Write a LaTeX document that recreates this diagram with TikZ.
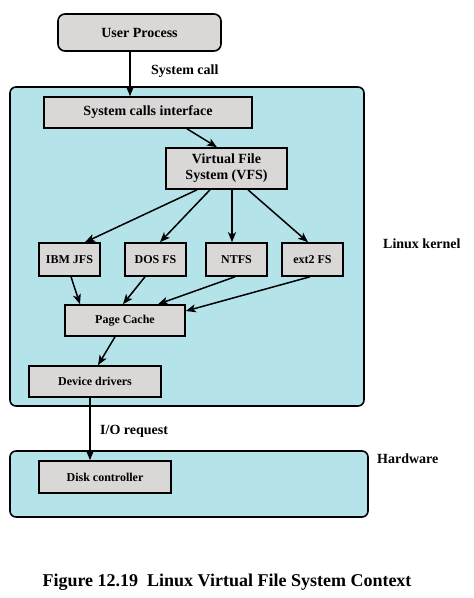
\documentclass[tikz,border=0pt]{standalone}
\usepackage{fontspec}
\setmainfont{Liberation Serif}
\usetikzlibrary{arrows.meta,calc}
\definecolor{kern}{HTML}{B5E3EA}
\definecolor{boxg}{HTML}{DAD7D7}
\begin{document}
\begin{tikzpicture}[x=1pt,y=-1pt,
  big/.style={font=\fontsize{14}{16}\selectfont\bfseries},
  small/.style={font=\fontsize{12}{14}\selectfont\bfseries},
  gbox/.style={draw=black,line width=1.6pt,fill=boxg,inner sep=0pt,align=center},
  region/.style={draw=black,line width=1.6pt,fill=kern,rounded corners=6pt,inner sep=0pt},
  lbl/.style={anchor=west,big,inner sep=0pt},
  arr/.style={line width=1.5pt,-{Stealth[length=10pt,width=8pt,inset=2.5pt]}}]
\useasboundingbox (0,0) rectangle (474,598);
% regions
\node[region,minimum width=354pt,minimum height=319pt] (kernel) at (187,246.5) {};
\node[region,minimum width=358pt,minimum height=66pt] (hw) at (189,484) {};
% boxes
\node[gbox,big,rounded corners=7pt,minimum width=163pt,minimum height=37pt] (up) at (139.5,32.5) {User Process};
\node[gbox,big,minimum width=208pt,minimum height=31pt] (sci) at (148,112.5) {System calls interface};
\node[gbox,big,minimum width=121pt,minimum height=41pt] (vfs) at (226.5,168.5) {Virtual File\\System (VFS)};
\node[gbox,small,minimum width=61pt,minimum height=33pt] (ibm) at (69.5,259.5) {IBM JFS};
\node[gbox,small,minimum width=61pt,minimum height=33pt] (dos) at (155.5,259.5) {DOS FS};
\node[gbox,small,minimum width=61pt,minimum height=33pt] (ntfs) at (236.5,259.5) {NTFS};
\node[gbox,small,minimum width=61pt,minimum height=33pt] (ext) at (312.5,259.5) {ext2 FS};
\node[gbox,small,minimum width=120pt,minimum height=31pt] (pc) at (125,320.5) {Page Cache};
\node[gbox,small,minimum width=132pt,minimum height=31pt] (dd) at (95,381.5) {Device drivers};
\node[gbox,small,minimum width=132pt,minimum height=32pt] (disk) at (105,477) {Disk controller};
% labels
\node[lbl] (lsc) at (151,71) {System call};
\node[lbl] (lk) at (383,244) {Linux kernel};
\node[lbl] (lhw) at (377,459) {Hardware};
\node[lbl] (lio) at (100,431) {I/O request};
\node[font=\fontsize{18}{20}\selectfont\bfseries,inner sep=0pt] (cap) at (227,582) {Figure 12.19\ \ Linux Virtual File System Context};
% arrows
\draw[arr] ([xshift=-9.5pt]up.south) -- ([xshift=-9.5pt]up.south |- sci.north);
\draw[arr] ([xshift=39pt]sci.south) -- ([xshift=-9.5pt]vfs.north);
\draw[arr] ([xshift=-29.5pt]vfs.south) -- ([xshift=15.5pt]ibm.north);
\draw[arr] ([xshift=-16.5pt]vfs.south) -- ([xshift=4.5pt]dos.north);
\draw[arr] ([xshift=5.5pt]vfs.south) -- ([xshift=-4.5pt]ntfs.north);
\draw[arr] ([xshift=21.5pt]vfs.south) -- ([xshift=-4.5pt]ext.north);
\draw[arr] ([xshift=1.5pt]ibm.south) -- ([xshift=-45pt]pc.north);
\draw[arr] ([xshift=-10.5pt]dos.south) -- ([xshift=-2pt]pc.north);
\draw[arr] ([xshift=-1.5pt]ntfs.south) -- ([xshift=33pt]pc.north);
\draw[arr] ([xshift=-2.5pt]ext.south) -- ([yshift=9.5pt]pc.east);
\draw[arr] ([xshift=-10pt]pc.south) -- ([xshift=3pt]dd.north);
\draw[arr] ([xshift=-5pt]dd.south) -- ([xshift=-5pt]dd.south |- disk.north);
\end{tikzpicture}
\end{document}
